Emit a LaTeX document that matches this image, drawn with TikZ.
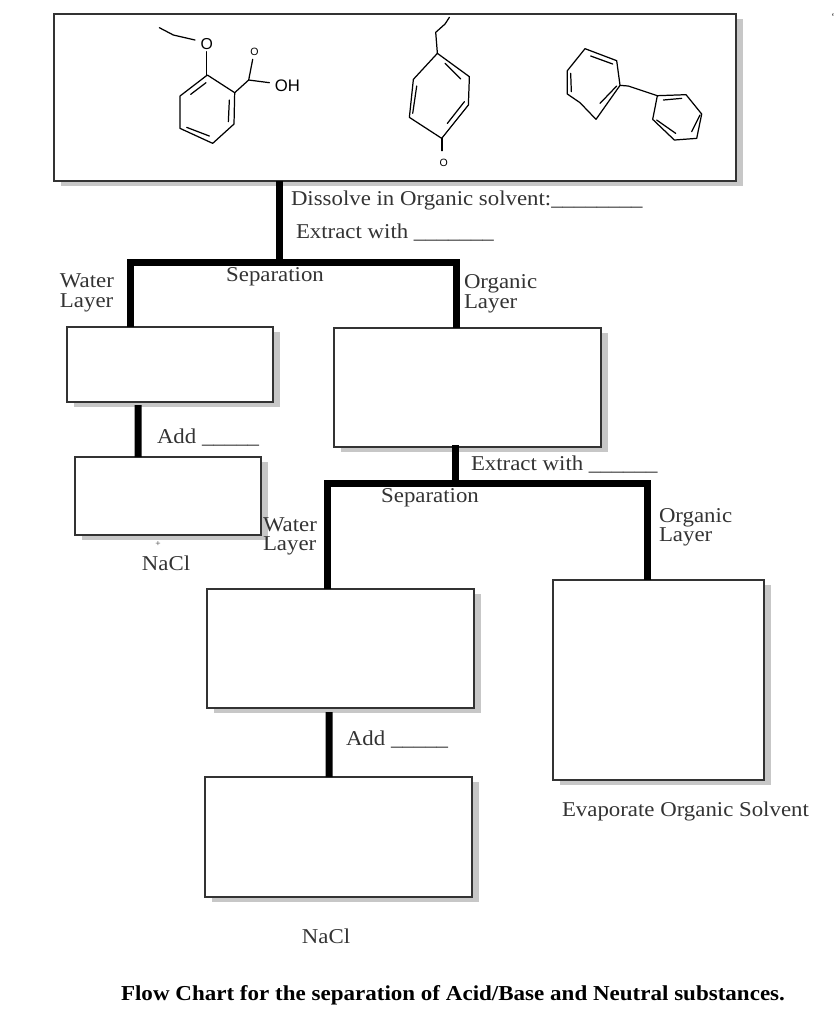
\documentclass[tikz,border=0pt]{standalone}
\usepackage{fontspec}
\setmainfont[FakeStretch=1.083]{Liberation Serif}
\newfontfamily\handfont{Liberation Sans}
\usepackage{tikz}
\usetikzlibrary{positioning}
\usetikzlibrary{shadows}
\begin{document}
\begin{tikzpicture}[semithick, node distance=0.5cm]
\tikzstyle{box} = [rectangle, draw=black!80, line width=0.7pt, fill=white, inner sep=0pt, outer sep=0pt, drop shadow={shadow xshift=0.14cm, shadow yshift=-0.1cm, opacity=1, fill=black!22}]
\tikzstyle{stem} = [draw, line width=0.14cm]
\tikzstyle{note} = [inner sep=0pt, outer sep=0pt, text=black!80, font=\fontsize{12}{11.3}\selectfont]
\tikzstyle{hand} = [line width=0.7pt, line join=round, line cap=round]
\tikzstyle{handtext} = [inner sep=0pt, text=black, font=\handfont]

\useasboundingbox (0,0) rectangle (16.72,-20.48);

\node[box, minimum width=13.64cm, minimum height=3.34cm, anchor=north west] (TOPBOX) at (1.08,-0.28) {};

\node[box, minimum width=4.12cm, minimum height=1.5cm] (WATERBOX) [below=2.92cm of TOPBOX.south west, anchor=north west, xshift=0.26cm] {};

\node[box, minimum width=5.34cm, minimum height=2.38cm] (ORGBOX) [below=0.02cm of WATERBOX.north east, anchor=north west, xshift=1.22cm] {};

\node[box, minimum width=3.72cm, minimum height=1.56cm] (ADDBOX) [below=1.1cm of WATERBOX.south west, anchor=north west, xshift=0.16cm] {};

\node[box, minimum width=5.34cm, minimum height=2.38cm] (WATERBOXB) [below=2.84cm of ORGBOX.south west, anchor=north west, xshift=-2.54cm] {};

\node[box, minimum width=4.22cm, minimum height=4cm] (ORGBOXB) [below=2.66cm of ORGBOX.south east, anchor=north west, xshift=-0.96cm] {};

\node[box, minimum width=5.34cm, minimum height=2.4cm] (BOTBOX) [below=1.38cm of WATERBOXB.south west, anchor=north west, xshift=-0.04cm] {};

\coordinate (SEPTOP) at ([xshift=-2.32cm,yshift=-1.62cm]TOPBOX.south);
\coordinate (SEPMID) at ([xshift=-0.25cm,yshift=-0.72cm]ORGBOX.south);

\path[stem] (SEPTOP |- TOPBOX.south) -- (SEPTOP);
\path[stem] ([xshift=-0.8cm]WATERBOX.north) |- (SEPTOP) -| ([xshift=-0.23cm]ORGBOX.north);

\path[stem] ([yshift=0.04cm]SEPMID |- ORGBOX.south) -- (SEPMID);
\path[stem] ([xshift=-0.27cm]WATERBOXB.north) |- (SEPMID) -| ([xshift=-0.23cm]ORGBOXB.north);

\path[stem] ([xshift=-0.64cm,yshift=-0.06cm]WATERBOX.south) -- ([xshift=-0.6cm]ADDBOX.north);
\path[stem] ([xshift=-0.23cm,yshift=-0.08cm]WATERBOXB.south) -- ([xshift=-0.19cm]BOTBOX.north);

\node[note] (DISSOLVE) [below=0.38cm of TOPBOX.south west, anchor=west, xshift=4.74cm] {Dissolve in Organic solvent:\_\_\_\_\_\_\_\_};
\node[note] (EXTRACTA) [below=1.04cm of TOPBOX.south west, anchor=west, xshift=4.84cm] {Extract with \_\_\_\_\_\_\_};
\node[note] (SEPA) [below=0.3cm of SEPTOP, anchor=center, xshift=-0.08cm] {Separation};

\node[note] (WATERA) [above=0.67cm of WATERBOX.north west, anchor=west, xshift=-0.14cm]
   {
      \begin{tabular}{@{}l@{}}
         Water\\
         Layer
      \end{tabular}
   };

\node[note] (ORGA) [above=0.67cm of ORGBOX.north west, anchor=west, xshift=2.6cm]
   {
      \begin{tabular}{@{}l@{}}
         Organic\\
         Layer
      \end{tabular}
   };

\node[note] (ADDA) [above=0.38cm of ADDBOX.north west, anchor=west, xshift=1.64cm] {Add \_\_\_\_\_};
\node[note, font=\fontsize{5}{6}\selectfont] (PLUS) [below=0.18cm of ADDBOX.south west, anchor=center, xshift=1.66cm] {+};
\node[note] (NACLA) [below=0.56cm of ADDBOX.south west, anchor=center, xshift=1.82cm] {NaCl};

\node[note] (EXTRACTB) [below=0.36cm of ORGBOX.south west, anchor=west, xshift=2.74cm] {Extract with \_\_\_\_\_\_};
\node[note] (SEPB) [below=0.3cm of SEPMID, anchor=center, xshift=-0.5cm] {Separation};

\node[note] (WATERB) [above=1.04cm of WATERBOXB.north west, anchor=west, xshift=1.12cm]
   {
      \begin{tabular}{@{}l@{}}
         Water\\
         Layer
      \end{tabular}
   };

\node[note] (ORGB) [above=1.04cm of ORGBOXB.north west, anchor=west, xshift=2.12cm]
   {
      \begin{tabular}{@{}l@{}}
         Organic\\
         Layer
      \end{tabular}
   };

\node[note] (ADDB) [above=0.74cm of BOTBOX.north west, anchor=west, xshift=2.82cm] {Add \_\_\_\_\_};
\node[note] (EVAP) [below=0.62cm of ORGBOXB.south west, anchor=west, xshift=0.18cm] {Evaporate Organic Solvent};
\node[note] (NACLB) [below=0.78cm of BOTBOX.south west, anchor=center, xshift=2.42cm] {NaCl};

\node[note, text=black, font=\fontsize{12.1}{14}\selectfont\bfseries] (TITLE) [below=1.96cm of BOTBOX.south, anchor=center, xshift=2.29cm] {Flow Chart for the separation of Acid/Base and Neutral substances.};

\node[note, font=\fontsize{6}{6}\selectfont] (TICK) at (16.66,-0.34) {`};

% structures
\begin{scope}[xshift=2.6cm, x=0.00667cm, y=-0.00667cm]
\draw[hand] (232,225) -- (150,288) -- (150,385) -- (248,430) -- (312,372) -- (314,278) -- cycle;
\draw[hand] (182,283) -- (228,248);
\draw[hand] (295,365) -- (298,300);
\draw[hand] (170,382) -- (238,408);
\draw[hand] (230,155) -- (230,225);
\draw[hand] (88,83) -- (130,105) -- (195,120);
\draw[hand] (314,278) -- (356,240) -- (418,248);
\draw[hand] (356,240) -- (368,178);
\node[handtext, font=\handfont\fontsize{9}{10}\selectfont] (METHOXY) at (230,133) {O};
\node[handtext, font=\handfont\fontsize{6}{8}\selectfont] (ACIDO) at (373,157) {O};
\node[handtext, font=\handfont\fontsize{9.5}{11}\selectfont] (ACIDOH) at (472,257) {OH};

\draw[hand] (958,52) -- (945,72) -- (917,97) -- (922,160);
\draw[hand] (922,160) -- (850,238) -- (838,352) -- (935,415) -- (1015,315) -- (1018,230) -- cycle;
\draw[hand] (945,190) -- (992,237);
\draw[hand] (860,258) -- (848,340);
\draw[hand] (952,370) -- (1003,305);
\draw[hand] (936,415) -- (936,452);
\node[handtext, font=\handfont\fontsize{6}{8}\selectfont] (KETONE) at (941,489) {O};
\end{scope}

\begin{scope}[xshift=9.6cm, x=0.00667cm, y=-0.00667cm]
\draw[hand] (315,146) -- (262,212) -- (262,282) -- (300,308) -- (348,358) -- (420,256) -- (410,182) -- cycle;
\draw[hand] (272,220) -- (274,275);
\draw[hand] (332,168) -- (398,192);
\draw[hand] (360,310) -- (410,258);
\draw[hand] (420,256) -- (445,258) -- (532,287);
\draw[hand] (532,287) -- (618,284) -- (665,342) -- (650,415) -- (583,420) -- (518,358) -- cycle;
\draw[hand] (550,300) -- (605,295);
\draw[hand] (660,345) -- (635,395);
\draw[hand] (530,360) -- (587,400);
\end{scope}
\end{tikzpicture}
\end{document}
